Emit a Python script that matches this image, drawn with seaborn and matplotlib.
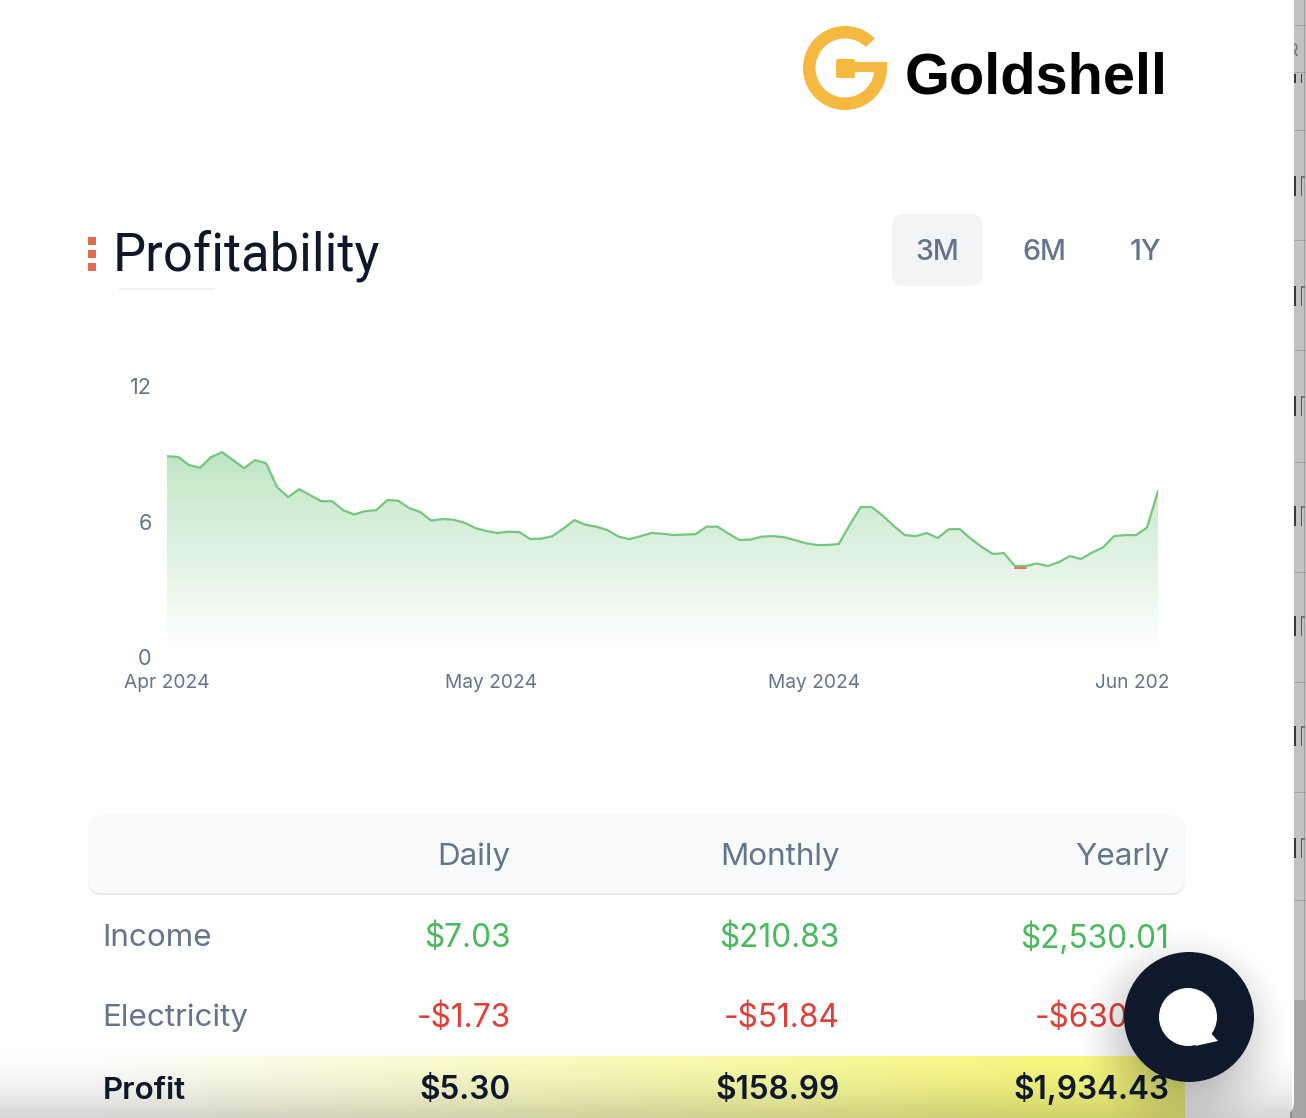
import numpy as np
import matplotlib
matplotlib.use("Agg")
import matplotlib.pyplot as plt
import pandas as pd
import seaborn as sns
from matplotlib.patches import Circle, FancyBboxPatch, Polygon, Rectangle, Wedge
from matplotlib.transforms import Affine2D, Bbox

# daily profit
profit = [8.89, 8.86, 8.50, 8.38, 8.85, 9.07, 8.72, 8.36, 8.72, 8.58,
          7.52, 7.08, 7.43, 7.17, 6.90, 6.90, 6.50, 6.31, 6.46, 6.50,
          6.95, 6.92, 6.59, 6.42, 6.04, 6.11, 6.08, 5.95, 5.71, 5.58,
          5.49, 5.55, 5.53, 5.22, 5.24, 5.35, 5.69, 6.06, 5.86, 5.77,
          5.62, 5.33, 5.22, 5.35, 5.49, 5.46, 5.40, 5.42, 5.44, 5.77,
          5.77, 5.46, 5.18, 5.20, 5.33, 5.35, 5.31, 5.18, 5.04, 4.96,
          4.96, 5.00, 5.84, 6.64, 6.64, 6.26, 5.80, 5.40, 5.35, 5.49,
          5.27, 5.66, 5.66, 5.24, 4.87, 4.56, 4.60, 4.03, 4.03, 4.14,
          4.03, 4.20, 4.47, 4.34, 4.62, 4.85, 5.35, 5.40, 5.40, 5.73,
          7.35]
low_days = [77, 78]
low_values = [4.03, 4.03]

y_ticks = [0, 6, 12]
x_tick_days = [0, 29.4, 58.8, 88.2]
x_tick_labels = ["Apr 2024", "May 2024", "May 2024", "Jun 2024"]

ranges = ["3M", "6M", "1Y"]
columns = ["Daily", "Monthly", "Yearly"]
row_names = ["Income", "Electricity", "Profit"]
income = ["$7.03", "$210.83", "$2,530.01"]
electricity = ["-$1.73", "-$51.84", "-$630.81"]
net = ["$5.30", "$158.99", "$1,934.43"]

W, H = 1306, 1118
SLATE = "#64748b"
INK = "#0f172a"
GREEN = "#48b95c"
RED = "#e03e36"
FONT = "Inter"

sns.set_theme(style="white")
plt.rcParams["font.family"] = [FONT, "DejaVu Sans"]

fig = plt.figure(figsize=(W / 100, H / 100), dpi=100, facecolor="white")

# page layer in pixel coordinates
page = fig.add_axes([0, 0, 1, 1], zorder=0)
page.set_xlim(0, W)
page.set_ylim(H, 0)
page.axis("off")

# window behind the panel
page.add_patch(Rectangle((1290, 0), 16, H, color="#c2c2c2", lw=0, zorder=0))
page.add_patch(Rectangle((1290, 1000), 16, H - 1000, color="#a6a6a6", lw=0, zorder=0.1))
page.add_patch(Rectangle((1304, 0), 1, H, color="#a2a2a2", lw=0, zorder=0.2))
for y in [25, 72, 130, 240, 350, 462, 572, 682, 792, 900, 1015, 1077]:
    page.add_patch(Rectangle((1293, y), 13, 1.2, color="#a4a4a4", lw=0, zorder=0.5))
for y in [186, 296, 406, 516, 626, 736, 848]:
    page.add_patch(Rectangle((1294, y - 10), 1.5, 20, color="#3a3a3a", lw=0, zorder=0.5))
    page.add_patch(Rectangle((1300.5, y - 10), 1.5, 20, color="#555555", lw=0, zorder=0.5))
    page.add_patch(Rectangle((1302, y - 10), 3, 1.5, color="#777777", lw=0, zorder=0.5))
page.add_patch(Rectangle((1294, 74), 1.5, 9, color="#3a3a3a", lw=0, zorder=0.5))
page.add_patch(Rectangle((1300.5, 74), 1.5, 9, color="#3a3a3a", lw=0, zorder=0.5))
page.text(1286, 52, "R", fontsize=13, color="#777777", ha="left", va="center", zorder=0.6)
page.add_patch(FancyBboxPatch((-40, -40), 1334, H + 39, boxstyle="round,pad=0,rounding_size=16",
                              fc="white", ec="none", lw=0, zorder=1))

# logo
page.add_patch(Wedge((845, 68), 42, -8, 315, width=12.5, color="#f5b840", lw=0, zorder=2))
page.add_patch(FancyBboxPatch((836, 59), 19, 19, boxstyle="round,pad=0,rounding_size=2",
                              color="#f5b840", lw=0, zorder=2))
page.add_patch(Rectangle((852, 62), 35, 10, color="#f5b840", lw=0, zorder=2))
page.text(905, 78, "Goldshell", family=["Liberation Sans"], weight="bold", fontsize=41.6,
          color="black", ha="left", va="center", zorder=3)

# section title
for y in [237, 250, 263]:
    page.add_patch(Rectangle((88, y), 8, 7.5, color="#e06c4f", lw=0, zorder=2))
page.text(113, 270, "Profitability", fontsize=37.8, family=["Roboto"], color=INK,
          ha="left", va="baseline", zorder=3)
page.add_patch(Rectangle((119, 288), 96, 1.5, color="#f0f0f0", lw=0, zorder=2))

# range buttons
page.add_patch(FancyBboxPatch((892, 214), 90.5, 72, boxstyle="round,pad=0,rounding_size=11",
                              color="#f3f4f6", lw=0, zorder=2))
for label, x in zip(ranges, [937.5, 1044, 1145]):
    page.text(x, 252, label, fontsize=20.5, weight="medium", color=SLATE, ha="center", va="center", zorder=3)

# table header
page.add_patch(FancyBboxPatch((88, 816), 1096.5, 79, boxstyle="round,pad=0,rounding_size=14",
                              color="#e7e9ec", lw=0, zorder=2))
page.add_patch(FancyBboxPatch((88, 815), 1096.5, 78, boxstyle="round,pad=0,rounding_size=14",
                              color="#f8fafc", lw=0, zorder=2.1))

# yellow row, fading in from the left
band = np.ones((1, 256, 4))
band[..., 0], band[..., 1], band[..., 2] = 0.97, 0.98, 0.50
band[..., 3] = np.clip(np.linspace(-0.1, 1.15, 256), 0, 1)
page.imshow(band, extent=(0, 1185, 1118, 1056), aspect="auto", zorder=2, interpolation="bilinear")
page.set_xlim(0, W)
page.set_ylim(H, 0)

# shadow rising from the bottom edge
shade = np.zeros((256, 1, 4))
shade[..., 3] = np.linspace(0, 1, 256)[:, None] ** 2 * 0.17
page.imshow(shade, extent=(0, 1292, 1118, 1040), aspect="auto", zorder=2.5, interpolation="bilinear")

# table text, placed on baselines so commas and descenders do not shift a row
right_edges = [510.5, 839.5, 1169.5]
for name, x in zip(columns, right_edges):
    page.text(x, 865, name, fontsize=22.6, color=SLATE, ha="right", va="baseline", zorder=3)
for name, y in zip(row_names, [946.5, 1026.5, 1099]):
    bold = name == "Profit"
    page.text(102.5, y, name, fontsize=22.6, weight="semibold" if bold else "normal",
              color=INK if bold else SLATE, ha="left", va="baseline", zorder=3)
for values, y, color, weight in [(income, 947.5, GREEN, "normal"), (electricity, 1027.5, RED, "normal"),
                                 (net, 1099, INK, "semibold")]:
    for value, x in zip(values, right_edges):
        page.text(x, y, value, fontsize=22.7, weight=weight, color=color, ha="right", va="baseline", zorder=3)

# chat button with its soft shadow
gx, gy = np.meshgrid(np.linspace(-1, 1, 300), np.linspace(-1, 1, 300))
glow = np.zeros((300, 300, 4))
glow[..., 3] = np.clip(1 - np.hypot(gx, gy), 0, 1) ** 1.5 * 0.55
page.imshow(glow, extent=(1185 - 110, 1185 + 108, 1035 + 110, 1035 - 110), aspect="auto", zorder=3.5,
            interpolation="bilinear")
page.set_xlim(0, W)
page.set_ylim(H, 0)
page.add_patch(Circle((1189, 1017), 65, color="#10182b", lw=0, zorder=4))
page.add_patch(Circle((1188, 1017), 29, color="white", lw=0, zorder=5))
page.add_patch(Polygon([(1208, 1030), (1218, 1041), (1195, 1046)], color="white", lw=0, zorder=5))

# profit chart, x in days from the start
data = pd.DataFrame({"day": np.arange(len(profit)), "profit": profit})
low = pd.DataFrame({"day": low_days, "profit": low_values})

ax = fig.add_axes([167 / W, 1 - 657 / H, (1158 - 167) / W, (657 - 386) / H], zorder=2)
ax.patch.set_alpha(0)
fill = ax.fill_between(data["day"], data["profit"], 0, color="none", lw=0)
ramp = np.ones((256, 1, 4))
ramp[..., 0], ramp[..., 1], ramp[..., 2] = 0.30, 0.72, 0.36
ramp[..., 3] = np.linspace(0.36, 0, 256)[:, None]
img = ax.imshow(ramp, extent=(0, 90, 0.2, 9.1), aspect="auto", origin="upper", zorder=1, interpolation="bilinear")
img.set_clip_path(fill.get_paths()[0], transform=ax.transData)

sns.lineplot(data=low, x="day", y="profit", ax=ax, color="#ee6a62", lw=1.4, zorder=2,
             transform=ax.transData + Affine2D().translate(0, -1.6))
sns.lineplot(data=data, x="day", y="profit", ax=ax, color="#74c77f", lw=1.6, zorder=3)

ax.set_xlim(0, 90)
ax.set_ylim(0, 12)
ax.set_xlabel("")
ax.set_ylabel("")
ax.set_yticks(y_ticks)
ax.set_xticks(x_tick_days)
ax.set_xticklabels(x_tick_labels)
ax.tick_params(axis="both", length=0, labelcolor=SLATE)
ax.tick_params(axis="y", pad=11, labelsize=15.5)
ax.tick_params(axis="x", pad=12.5, labelsize=13.8)
sns.despine(ax=ax, left=True, bottom=True)
ax.grid(False)

# last label runs off the chart area in the source
ax.get_xticklabels()[-1].set_clip_box(Bbox([[0, 0], [1168, H]]))
ax.get_xticklabels()[-1].set_clip_on(True)

fig.savefig("out.png", dpi=100)
